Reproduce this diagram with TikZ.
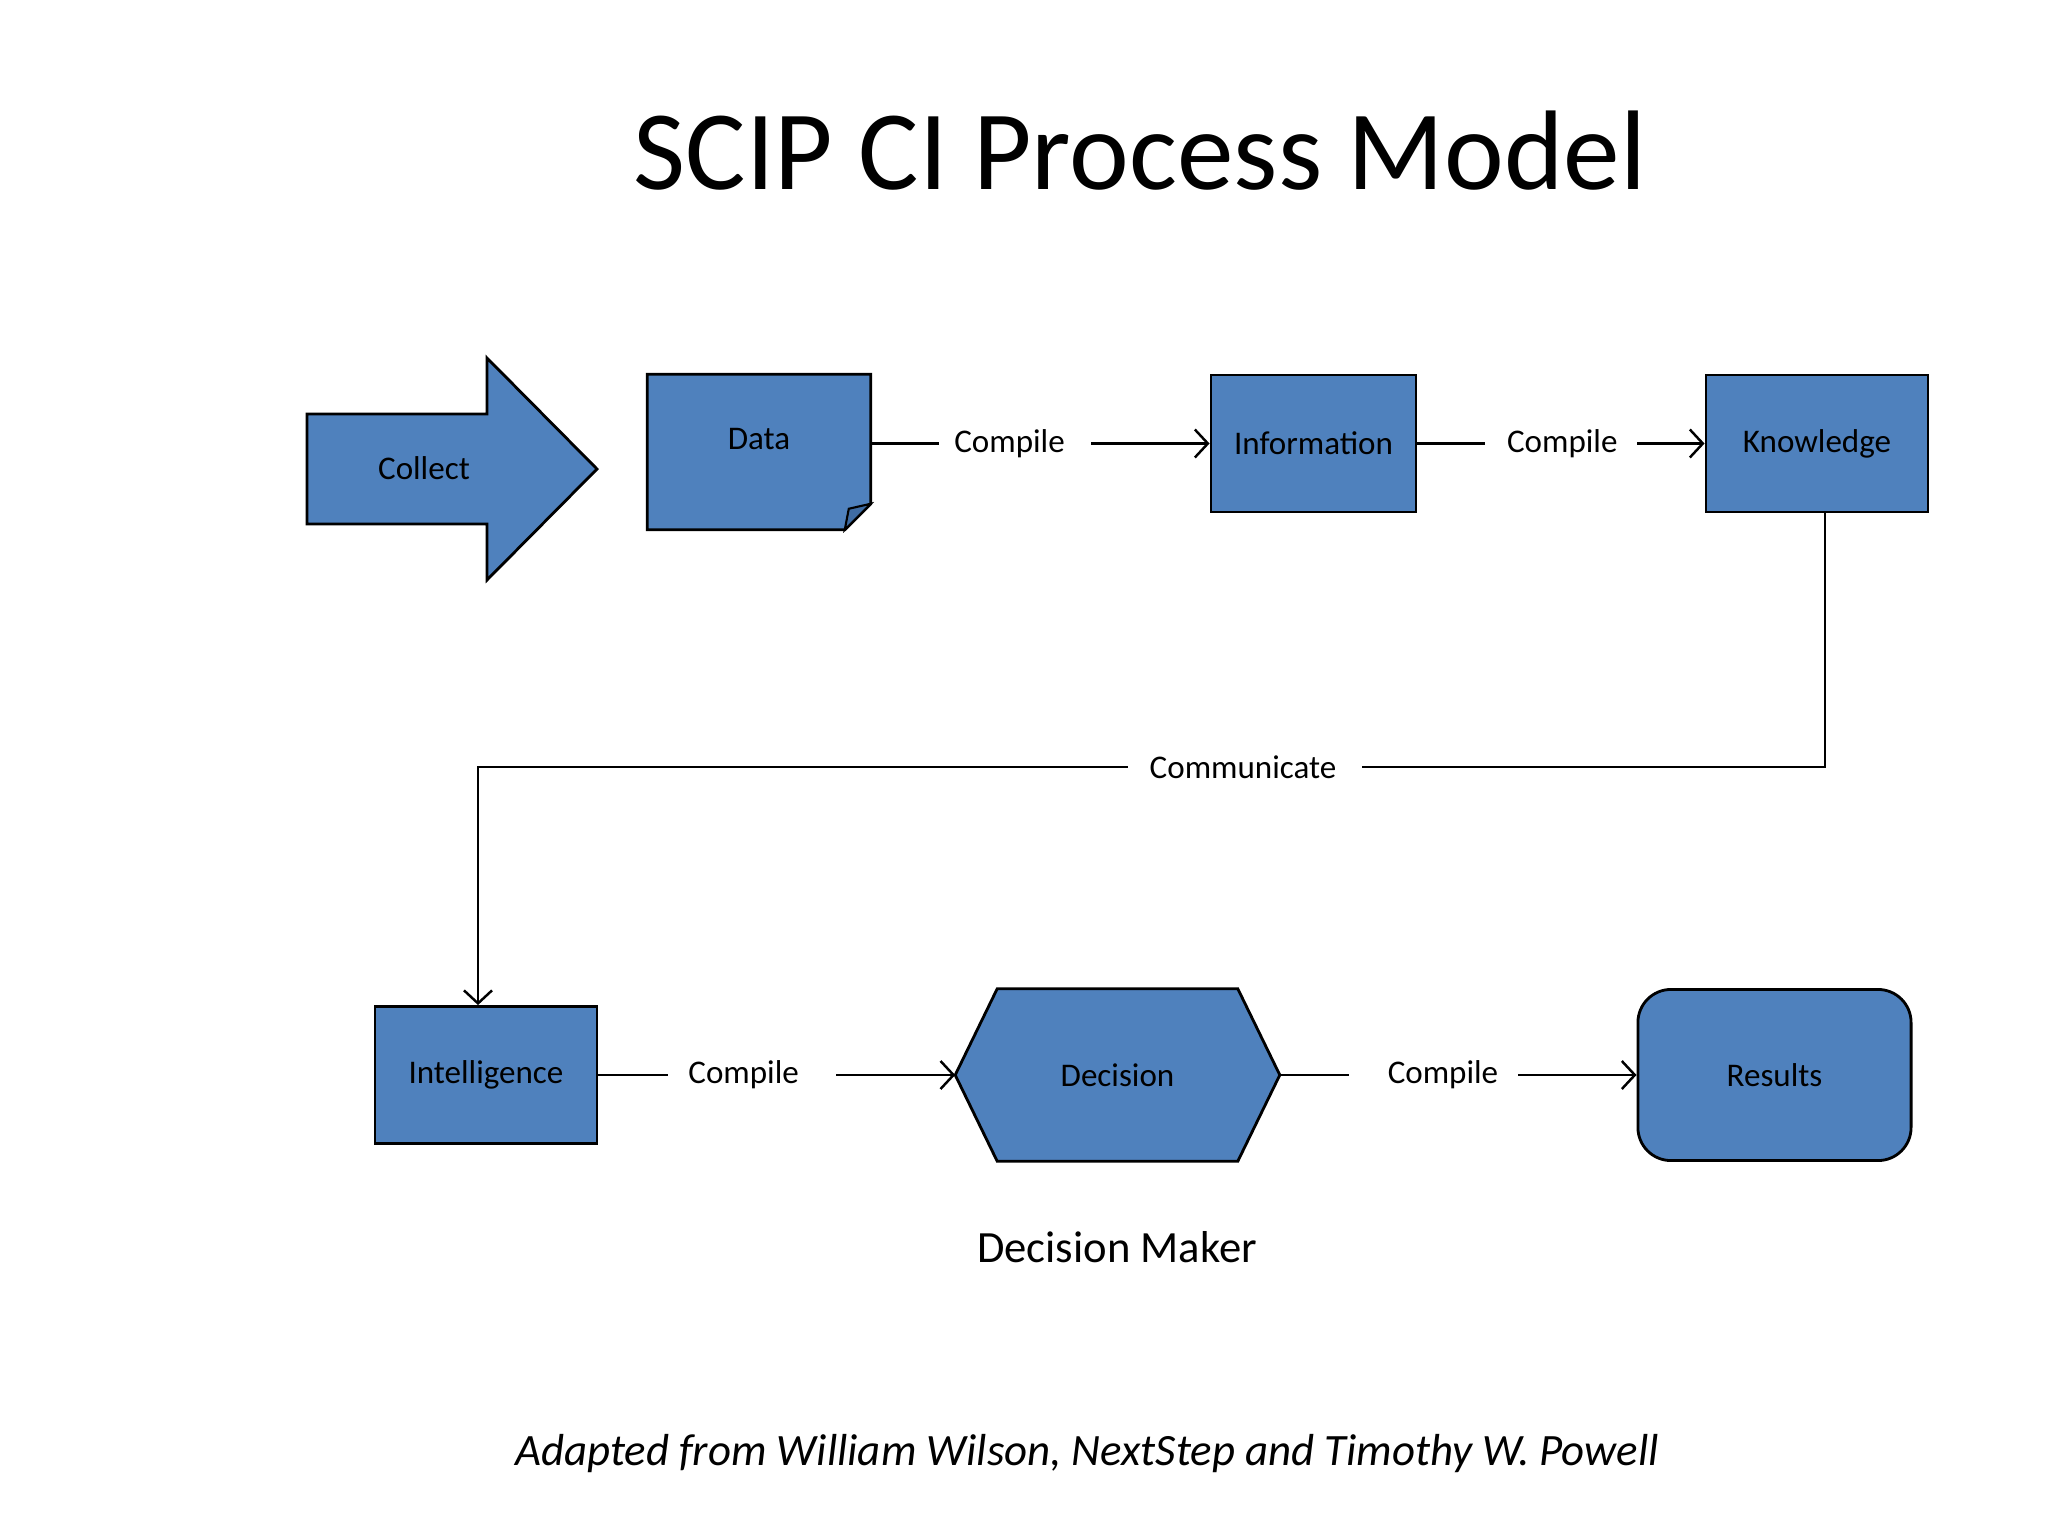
\documentclass[tikz,border=0pt]{standalone}
\usepackage{fontspec}
\setmainfont{Carlito}
\usetikzlibrary{arrows.meta,backgrounds,calc}
\definecolor{boxblue}{HTML}{4F81BD}
\definecolor{foldblue}{HTML}{3F6CA3}
\newcommand{\nodefont}{\fontsize{9.4}{11}\selectfont}
\newcommand{\padtxt}[3]{\hspace*{#1}#2\hspace*{#3}}
\begin{document}
\begin{tikzpicture}[x=0.01cm,y=-0.01cm,
  shapeline/.style={draw=black, line width=0.8pt, line join=miter},
  box/.style={shapeline, fill=boxblue, font=\nodefont, inner sep=0pt},
  conn/.style={draw=black, line width=0.7pt},
  arr/.style={-{Straight Barb[length=1.3mm,width=2.8mm]}},
  lbl/.style={fill=white, font=\nodefont, inner xsep=0pt, inner ysep=0.06cm},
  txt/.style={font=\nodefont, inner sep=0pt}]
\useasboundingbox (0,0) rectangle (2048,1536);
\begin{pgfonlayer}{background}
\fill[white] (0,0) rectangle (2048,1536);
\end{pgfonlayer}

% title
\node[font=\fontsize{32.2}{38}\selectfont, anchor=base] (title) at (1140,189) {SCIP CI Process Model};

% collect arrow
\draw[shapeline, fill=boxblue] (307,414) -- (487,414) -- (487,358) -- (597,469) -- (487,580) -- (487,524) -- (307,524) -- cycle;
\node[txt] (collect) at (424,468) {Collect};

% data (folded corner)
\node[inner sep=0pt, minimum width=2.22cm, minimum height=1.54cm] (data) at (759,452) {};
\draw[shapeline, fill=boxblue] (data.north west) -- (data.north east) -- ($(data.south east)+(0,-26)$) -- ($(data.south east)+(-26,0)$) -- (data.south west) -- cycle;
\draw[shapeline, fill=foldblue, line width=0.6pt] ($(data.south east)+(-26,0)$) -- ($(data.south east)+(-22,-21)$) -- ($(data.south east)+(0,-26)$) -- cycle;
\node[txt] (datatxt) at (759,439) {Data};

% boxes
\node[box, minimum width=2.05cm, minimum height=1.37cm] (info) at (1313.5,443.5) {Information};
\node[box, minimum width=2.22cm, minimum height=1.37cm] (know) at (1817,443.5) {Knowledge};
\node[box, minimum width=2.22cm, minimum height=1.37cm] (intel) at (486,1075) {Intelligence};

% decision hexagon
\node[inner sep=0pt, minimum width=3.23cm, minimum height=1.71cm, font=\nodefont] (dec) at (1117.5,1075) {Decision};
\begin{pgfonlayer}{background}
\draw[shapeline, fill=boxblue] (dec.west) -- ($(dec.north west)+(42,0)$) -- ($(dec.north east)+(-42,0)$) -- (dec.east) -- ($(dec.south east)+(-42,0)$) -- ($(dec.south west)+(42,0)$) -- cycle;
\end{pgfonlayer}

% results
\node[box, rounded corners=0.33cm, minimum width=2.73cm, minimum height=1.71cm] (res) at (1774.5,1075) {Results};

% connectors
\draw[conn,arr] (data.east |- info.west) -- node[lbl,pos=0.425]{\padtxt{0.157cm}{Compile}{0.261cm}} (info.west);
\draw[conn,arr] (info.east) -- node[lbl,pos=0.5]{\padtxt{0.222cm}{Compile}{0.196cm}} (know.west);
\coordinate (c1) at (1825,767);
\coordinate (c2) at (478,767);
\draw[conn,arr] (know.south -| c1) -- (c1) -- node[lbl,pos=0.4306]{\padtxt{0.222cm}{Communicate}{0.261cm}} (c2) -- (intel.north -| c2);
\draw[conn,arr] (intel.east) -- node[lbl,pos=0.429]{\padtxt{0.209cm}{Compile}{0.366cm}} (dec.west);
\draw[conn,arr] (dec.east) -- node[lbl,pos=0.43]{\padtxt{0.392cm}{Compile}{0.196cm}} (res.west);

% captions
\node[font=\fontsize{12.7}{15}\selectfont, anchor=base] (dm) at (1117,1262) {Decision Maker};
\node[font=\fontsize{12.75}{15}\selectfont\itshape, anchor=base] (credit) at (1087,1465) {Adapted from William Wilson, NextStep and Timothy W. Powell};
\end{tikzpicture}
\end{document}
